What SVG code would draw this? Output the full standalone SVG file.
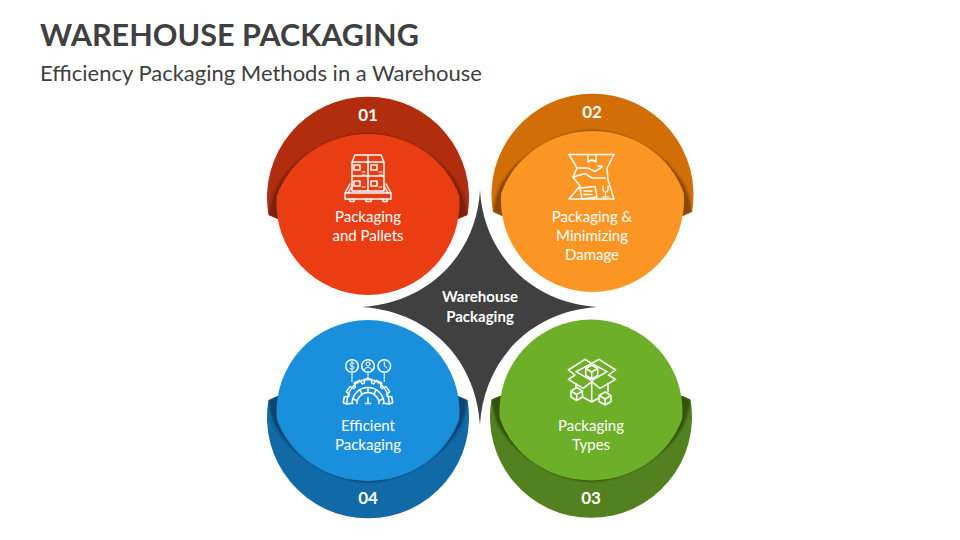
<svg xmlns="http://www.w3.org/2000/svg" width="960" height="540" viewBox="0 0 960 540">
<style>
text{font-family:"Lato","Liberation Sans",sans-serif;fill:#fff;text-anchor:middle}
.t{font-size:15px}
.n{font-size:17px;font-weight:700}
.i{fill:none;stroke:#fff;stroke-width:1.5;stroke-linejoin:round;stroke-linecap:round}
</style>
<defs>
<filter id="b" x="-10%" y="-10%" width="120%" height="120%"><feGaussianBlur stdDeviation="0.8"/></filter>
<clipPath id="c"><path d="M268.500,215A101,101 0 1 1 467.500,215L459,219L277,219Z"/></clipPath>
<path id="back" d="M268.500,215A101,101 0 1 1 467.500,215L459,218.500L277,218.500Z"/>
<path id="shade" d="M268.500,215C270,205 272,197 275,190C279,182 285,174 292,167C310,150 338,133 368,133C398,133 426,150 444,167C451,174 457,182 461,190C464,197 466,205 467.500,215L459,219L277,219Z"/>
<path id="front" d="M276.800,196A96,90 0 0 1 459.200,196A91.500,91.500 0 1 1 276.800,196Z"/>
<path id="tooth" d="M-4,-20L-3,-24.500H3L4,-20"/>
</defs>
<rect width="960" height="540" fill="#fff"/>
<text x="40" y="46" style="font-size:30.600px;font-weight:700;fill:#404040;text-anchor:start">WAREHOUSE PACKAGING</text>
<text x="40" y="81" style="font-size:22px;fill:#404040;text-anchor:start">Efficiency Packaging Methods in a Warehouse</text>
<g id="connectors"></g>
<g id="center">
<path d="M480,190C483,248 525,302 597,307C525,312 483,366 480,425C477,366 435,312 362,307C435,302 477,248 480,190Z" fill="#404040"/>
<text class="t" x="480" y="302" style="font-weight:700">Warehouse</text>
<text class="t" x="480" y="322" style="font-weight:700">Packaging</text>
</g>
<g id="node-01">
<use href="#back" fill="#B02E0E"/>
<use href="#shade" fill="#7A2008" filter="url(#b)" clip-path="url(#c)"/>
<use href="#front" fill="#EA3D14"/>
<text class="n" x="368" y="121">01</text>
<g class="i">
<path d="M352,162L355,155H381L384,162V191H352ZM352,162H384M368,155V191M352,176H384"/>
<path d="M345,193H391V199H345ZM345,193L350,184M391,193L386,184M348,193L352,186M388,193L384,186M350,199V201.500H354V199M366,199V201.500H371V199M383,199V201.500H387V199"/>
<rect x="354" y="165" width="6" height="5"/><rect x="371" y="165" width="6" height="5"/><rect x="354" y="181" width="6" height="5"/><rect x="371" y="181" width="6" height="5"/>
<path d="M362,172H365M362,175H365M379,172H382M379,175H382M362,187H365M379,187H382" stroke-width="1"/>
</g>
<text class="t" x="368" y="222">Packaging</text>
<text class="t" x="368" y="241">and Pallets</text>
</g>
<g id="node-02">
<g transform="translate(224.500,-3)">
<use href="#back" fill="#D16F06"/>
<use href="#shade" fill="#8A4A05" filter="url(#b)" clip-path="url(#c)"/>
<use href="#front" fill="#FB9524"/>
</g>
<text class="n" x="592" y="117.500">02</text>
<g class="i">
<path d="M569,154.500H614L607,168L608,180L614,199H569L580,186L573,177L577,168Z"/>
<path d="M588,154.500V162L592,160L596,162V154.500"/>
<path d="M577,168H588L595,171.500L602,167M573,177L585,173.500L592,178H605M598,166H602"/>
<path d="M580,188L595,186.500L597,197L582,199ZM584,191H592M584,194.500H592"/>
<path d="M603,186V190M608,186V190M603,190C604,193 607,193 608,190M605.500,192V197M602,197H609" stroke-width="1.200"/>
</g>
<text class="t" x="592" y="222">Packaging &amp;</text>
<text class="t" x="592" y="241">Minimizing</text>
<text class="t" x="592" y="260">Damage</text>
</g>
<g id="node-04">
<g transform="matrix(1 0 0 -1 0 615)">
<use href="#back" fill="#1169A6"/>
<use href="#shade" fill="#0A4470" filter="url(#b)" clip-path="url(#c)"/>
<use href="#front" fill="#1A8FDB"/>
</g>
<text class="n" x="368" y="504">04</text>
<g class="i">
<circle cx="352" cy="366" r="6.300"/><circle cx="368" cy="366" r="6.300"/><circle cx="384.300" cy="366" r="6.300"/>
<path d="M354,363.500C352,362 350,363 350,364.500C350,366.500 354,365.500 354,367.500C354,369 352,370 350,368.500M352,361.500V370.500" stroke-width="1"/>
<circle cx="368" cy="364" r="2" stroke-width="1"/><path d="M364,370C364,366.500 372,366.500 372,370" stroke-width="1"/>
<path d="M384.300,362V366L387,368" stroke-width="1"/>
<path d="M352,374V382M368,374V379M384.300,374V382" stroke-dasharray="1 2"/>
<g transform="translate(368,403.500)">
<path d="M-24,0A20,20 0 0 1 24,0" transform="scale(0.88 1)"/>
<use href="#tooth"/><use href="#tooth" transform="rotate(27)"/><use href="#tooth" transform="rotate(54)"/><use href="#tooth" transform="rotate(81)"/><use href="#tooth" transform="rotate(-27)"/><use href="#tooth" transform="rotate(-54)"/><use href="#tooth" transform="rotate(-81)"/>
<path d="M-24,0H-15M15,0H24M-16,0A16,16 0 0 1 16,0M-11,0A11,11 0 0 1 11,0M-11.500,-3L-15.500,-5M11.500,-3L15.500,-5M-6,-9.500L-8,-13.500M6,-9.500L8,-13.500M0,-11V-15.500"/>
<path d="M0,-6V-1M-2.500,0H2.500"/>
</g>
</g>
<text class="t" x="368" y="431">Efficient</text>
<text class="t" x="368" y="450">Packaging</text>
</g>
<g id="node-03">
<g transform="matrix(1 0 0 -1 223 614.500)">
<use href="#back" fill="#538120"/>
<use href="#shade" fill="#32520F" filter="url(#b)" clip-path="url(#c)"/>
<use href="#front" fill="#6DAF28"/>
</g>
<text class="n" x="591" y="503.500">03</text>
<g class="i">
<path d="M575,375L568.300,370L585,359.300L591.700,363.300L599,359.300L615.700,370L608.300,375L615.700,379.300L600,388.300L591.700,381.700L583.300,388.300L568.300,379.300Z"/>
<path d="M576,371.700L591.700,363.300L607,371.700L591.700,380.700Z"/>
<path d="M585.700,368.500L591.700,365L597.700,368.500V375.500L591.700,379L585.700,375.500ZM585.700,368.500L591.700,372L597.700,368.500M591.700,372V379"/>
<path d="M576,384V387M591.700,381.700V402L582.500,397M591.700,402L598,398.500M608,384V392"/>
<path d="M576.700,387.500L582.500,391V397L576.700,400.500L571,397V391ZM571,391L576.700,394.500L582.500,391M576.700,394.500V400.500"/>
<path d="M605,392L611,395.500V401.500L605,405L599,401.500V395.500ZM599,395.500L605,399L611,395.500M605,399V405"/>
</g>
<text class="t" x="591" y="431">Packaging</text>
<text class="t" x="591" y="450">Types</text>
</g>
</svg>
